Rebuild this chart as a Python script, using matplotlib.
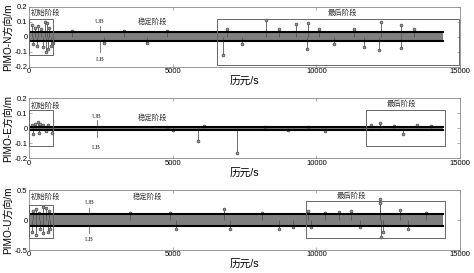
import matplotlib.pyplot as plt
import numpy as np

plt.rcParams['font.family'] = ['Liberation Sans', 'Noto Sans CJK SC']

# ---- data ----
x_end = 14400          # last epoch of the series
# band (dense residual cloud) half-widths and UB/LB lines per component
n_band = (-0.03, 0.03)
n_ub, n_lb = 0.033, -0.025
e_band = (-0.009, 0.009)
e_ub, e_lb = 0.01, -0.01
u_band = (-0.085, 0.085)
u_ub, u_lb = 0.1, -0.1

# outliers (epoch, value)
n_out_x = [120, 200, 320, 420, 560, 640, 700, 150, 280, 480, 600, 650, 760, 830,
           1500, 2600, 3300, 4100, 4800, 6740, 6900, 7400, 8230, 8700, 9300, 9720,
           9680, 10100, 10600, 11300, 11670, 12190, 12250, 12950, 12950, 13400]
n_out_y = [0.08, 0.06, 0.07, 0.05, 0.1, 0.09, 0.06, -0.05, -0.06, -0.07, -0.1, -0.08, -0.06, -0.04,
           0.04, -0.04, 0.04, -0.04, 0.04, -0.12, 0.05, -0.05, 0.11, 0.05, 0.087, 0.095,
           -0.08, 0.05, -0.05, 0.05, -0.07, -0.09, 0.1, 0.08, -0.075, 0.05]

e_out_x = [100, 200, 300, 400, 500, 650, 150, 350, 600, 800, 4800, 5000, 5870, 6100, 7220,
           8200, 9000, 9700, 10300, 11900, 12200, 12700, 13000, 13500, 14000]
e_out_y = [0.02, 0.03, 0.04, 0.03, 0.02, 0.02, -0.04, -0.03, -0.02, -0.03, 0.01, -0.01, -0.085, 0.015, -0.165,
           0.01, -0.01, 0.01, -0.015, 0.02, 0.035, 0.015, -0.04, 0.02, 0.015]

u_out_x = [150, 250, 350, 500, 600, 700, 100, 250, 400, 500, 650, 750,
           3500, 4900, 5100, 6800, 7000, 8100, 8700, 9200, 9700, 9800, 10300, 10800,
           11200, 11500, 12200, 12200, 12250, 12300, 12900, 13200, 13800]
u_out_y = [0.15, 0.18, 0.12, 0.22, 0.2, 0.15, -0.2, -0.25, -0.15, -0.22, -0.2, -0.15,
           0.12, 0.12, -0.15, 0.18, -0.15, 0.12, -0.15, -0.12, 0.15, -0.12, 0.12, 0.13,
           0.15, -0.12, 0.35, 0.28, -0.28, -0.2, 0.17, -0.15, 0.12]

# phase boxes (x0, x1, y0, y1)
n_boxes = [(0, 830, -0.12, 0.12), (6530, 14970, -0.19, 0.12)]
e_boxes = [(0, 830, -0.12, 0.12), (11730, 14480, -0.12, 0.12)]
u_boxes = [(0, 830, -0.3, 0.25), (9620, 14480, -0.3, 0.32)]

panels = [
    dict(name='PIMO-N', band=n_band, ub=n_ub, lb=n_lb, ox=n_out_x, oy=n_out_y, boxes=n_boxes,
         ylim=0.2, yt=[-0.2, -0.1, 0, 0.1, 0.2], ytl=['-0.2', '-0.1', '0', '0.1', '0.2'],
         txt=[(50, 0.16, '初始阶段', 'left'), (4300, 0.1, '稳定阶段', 'center'), (10900, 0.16, '最后阶段', 'center')],
         ubl=(2470, 0.1, 0.07), lbl=(2470, -0.15, -0.1), rect=(0.061, 0.755, 0.91, 0.22)),
    dict(name='PIMO-E', band=e_band, ub=e_ub, lb=e_lb, ox=e_out_x, oy=e_out_y, boxes=e_boxes,
         ylim=0.2, yt=[-0.2, -0.1, 0, 0.1, 0.2], ytl=['-0.2', '-0.1', '0', '0.1', '0.2'],
         txt=[(50, 0.15, '初始阶段', 'left'), (4300, 0.07, '稳定阶段', 'center'), (12950, 0.16, '最后阶段', 'center')],
         ubl=(2360, 0.08, 0.055), lbl=(2360, -0.125, -0.06), rect=(0.061, 0.42, 0.91, 0.22)),
    dict(name='PIMO-U', band=u_band, ub=u_ub, lb=u_lb, ox=u_out_x, oy=u_out_y, boxes=u_boxes,
         ylim=0.5, yt=[-0.5, 0, 0.5], ytl=['-0.5', '0', '0.5'],
         txt=[(50, 0.38, '初始阶段', 'left'), (4140, 0.38, '稳定阶段', 'center'), (11200, 0.4, '最后阶段', 'center')],
         ubl=(2100, 0.3, 0.2), lbl=(2100, -0.33, -0.22), rect=(0.061, 0.084, 0.91, 0.22)),
]

fig = plt.figure(figsize=(4.74, 2.73), dpi=100)
frame_c = '#8a8a8a'
for p in panels:
    ax = fig.add_axes(p['rect'])
    ax.fill_between([0, x_end], p['band'][0], p['band'][1], color='#7f7f7f', lw=0, zorder=1)
    ax.vlines(p['ox'], 0, p['oy'], color='#555555', lw=0.6, zorder=2)
    ax.plot(p['ox'], p['oy'], 'o', ms=2.0, mfc='#9a9a9a', mec='#444444', mew=0.5, zorder=3)
    ax.plot([0, x_end], [p['ub'], p['ub']], color='black', lw=1.5, zorder=4)
    ax.plot([0, x_end], [p['lb'], p['lb']], color='black', lw=1.5, zorder=4)
    for x0, x1, y0, y1 in p['boxes']:
        ax.add_patch(plt.Rectangle((x0, y0), x1 - x0, y1 - y0, fill=False, ec='#666666', lw=0.7, zorder=5))
    for tx, ty, s, ha in p['txt']:
        ax.text(tx, ty, s, fontsize=5.3, ha=ha, va='center', color='#333333')
    ux, uy, uline = p['ubl']
    ax.text(ux, uy, 'UB', fontsize=5, ha='center', va='center', color='#333333', family='Liberation Serif')
    ax.plot([ux, ux], [uline, p['ub']], color='#666666', lw=0.6)
    lx, ly, lline = p['lbl']
    ax.text(lx, ly, 'LB', fontsize=5, ha='center', va='center', color='#333333', family='Liberation Serif')
    ax.plot([lx, lx], [lline, p['lb']], color='#666666', lw=0.6)

    ax.set_xlim(0, 15000)
    ax.set_ylim(-p['ylim'], p['ylim'])
    ax.set_xticks([0, 5000, 10000, 15000])
    ax.set_xticklabels(['0', '5000', '10000', '15000'])
    ax.set_yticks(p['yt'])
    ax.set_yticklabels(p['ytl'])
    ax.tick_params(direction='in', length=2.5, width=0.5, color=frame_c, labelsize=5.5, pad=1,
                   top=True, right=True)
    for sp in ax.spines.values():
        sp.set_color(frame_c)
        sp.set_linewidth(0.6)
    ax.set_ylabel(p['name'] + '方向/m', fontsize=7.2)
    ax.yaxis.set_label_coords(-0.037, 0.5)
    ax.set_xlabel('历元/s', fontsize=7.7, labelpad=0.5)

fig.savefig('out.png', dpi=100)
